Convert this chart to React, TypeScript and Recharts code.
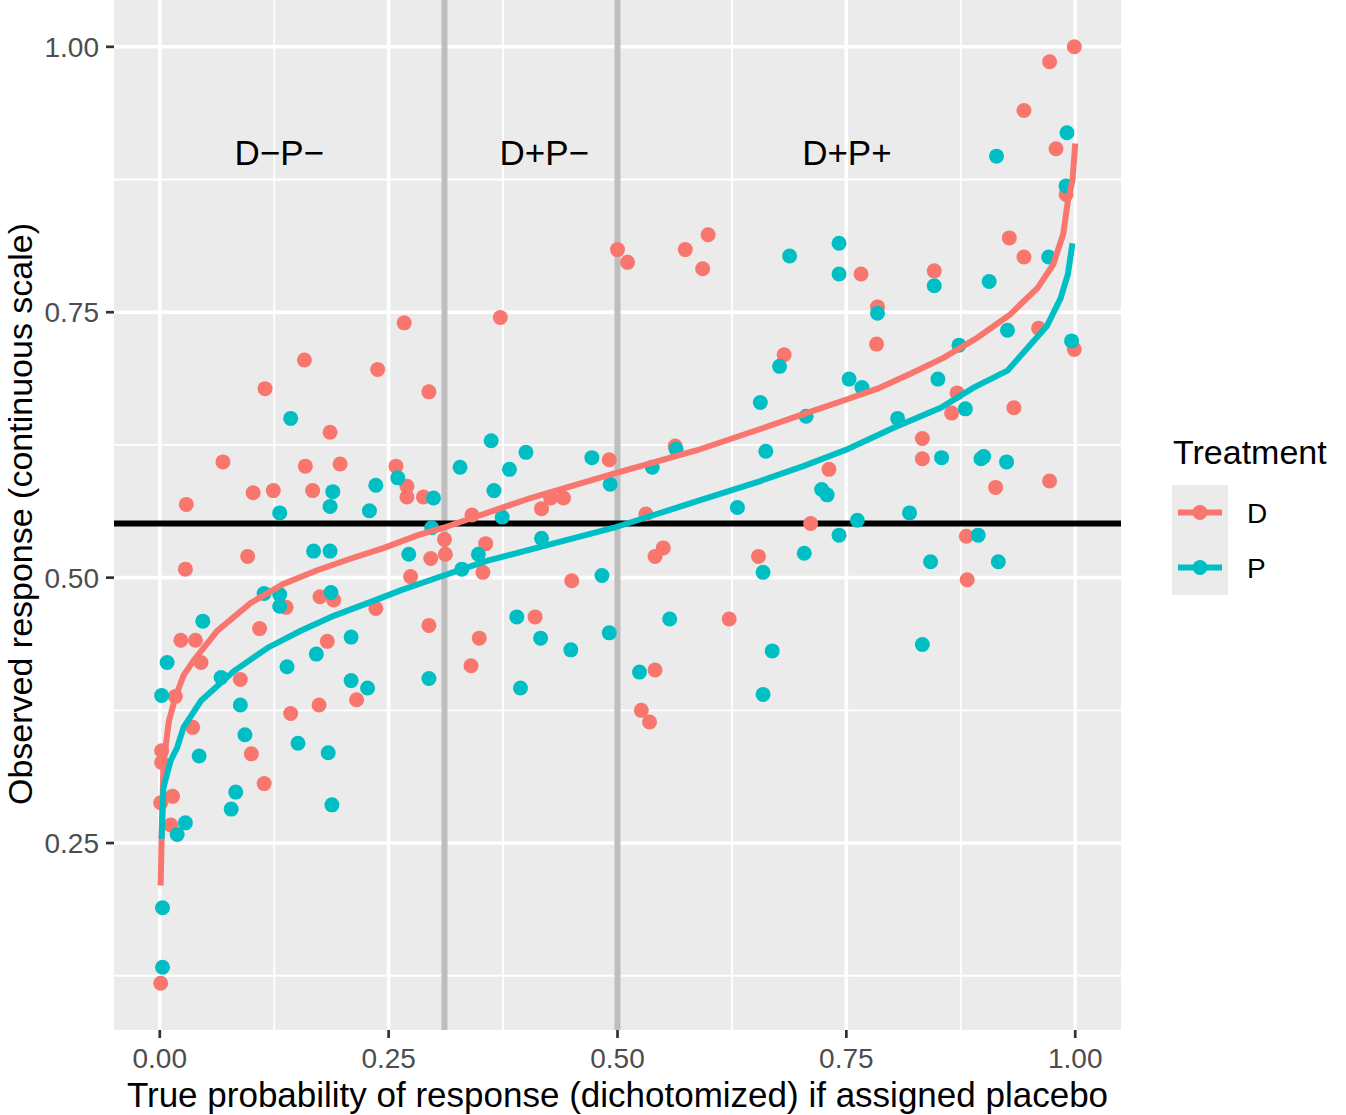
import React from 'react';
import { ScatterChart, Scatter, XAxis, YAxis, ReferenceLine, ReferenceDot, CartesianGrid } from 'recharts';

// Treatment D observations
const dX = [0.001,0.002,0.002,0.001,0.014,0.012,0.017,0.023,0.039,0.045,0.036,0.088,0.109,0.100,0.114,0.143,0.174,0.183,0.215,0.294,
  0.267,0.158,0.238,0.115,0.294,0.186,0.069,0.159,0.197,0.258,0.102,0.124,0.167,0.029,0.270,0.270,0.288,0.028,0.096,0.311,
  0.312,0.296,0.274,0.175,0.190,0.138,0.236,0.500,0.511,0.574,0.599,0.593,0.372,0.563,0.491,0.427,0.441,0.417,0.341,0.531,
  0.356,0.550,0.541,0.654,0.353,0.450,0.410,0.349,0.622,0.340,0.541,0.526,0.535,0.999,0.972,0.944,0.979,0.990,0.928,0.944,
  0.766,0.846,0.784,0.783,0.960,0.999,0.682,0.871,0.865,0.933,0.833,0.833,0.731,0.913,0.972,0.711,0.881,0.882];
const dY = [0.118,0.337,0.326,0.288,0.294,0.267,0.388,0.441,0.441,0.420,0.359,0.404,0.452,0.334,0.306,0.372,0.380,0.440,0.385,0.455,
  0.740,0.705,0.696,0.678,0.675,0.637,0.609,0.605,0.607,0.605,0.580,0.582,0.582,0.569,0.586,0.576,0.576,0.508,0.520,0.536,
  0.522,0.518,0.501,0.482,0.479,0.472,0.471,0.809,0.797,0.809,0.823,0.791,0.745,0.624,0.611,0.575,0.575,0.565,0.559,0.560,
  0.532,0.528,0.520,0.520,0.505,0.497,0.463,0.443,0.461,0.417,0.413,0.375,0.364,1.000,0.986,0.940,0.904,0.861,0.820,0.802,
  0.786,0.789,0.755,0.720,0.735,0.715,0.710,0.674,0.655,0.660,0.631,0.612,0.602,0.585,0.591,0.551,0.539,0.498];

// Treatment P observations
const pX = [0.143,0.260,0.236,0.189,0.186,0.131,0.229,0.299,0.297,0.168,0.186,0.272,0.114,0.131,0.131,0.187,0.047,0.209,0.008,0.002,
  0.067,0.088,0.093,0.043,0.139,0.171,0.209,0.227,0.151,0.184,0.083,0.078,0.188,0.028,0.019,0.294,0.003,0.003,0.656,0.662,
  0.564,0.362,0.400,0.328,0.382,0.472,0.538,0.365,0.492,0.374,0.631,0.417,0.348,0.330,0.483,0.659,0.390,0.416,0.449,0.491,
  0.557,0.669,0.524,0.394,0.659,0.991,0.914,0.990,0.742,0.971,0.688,0.742,0.846,0.906,0.784,0.926,0.873,0.996,0.677,0.753,
  0.850,0.767,0.880,0.706,0.806,0.854,0.897,0.900,0.925,0.723,0.729,0.819,0.762,0.742,0.894,0.704,0.842,0.916,0.833];
const pY = [0.650,0.594,0.587,0.581,0.567,0.561,0.563,0.575,0.547,0.525,0.525,0.522,0.485,0.484,0.473,0.486,0.459,0.444,0.420,0.389,
  0.406,0.380,0.352,0.332,0.416,0.428,0.403,0.396,0.344,0.335,0.298,0.282,0.286,0.269,0.258,0.405,0.189,0.133,0.665,0.619,
  0.621,0.629,0.618,0.604,0.602,0.613,0.604,0.582,0.588,0.557,0.566,0.537,0.522,0.508,0.502,0.505,0.463,0.443,0.432,0.448,
  0.461,0.431,0.411,0.396,0.390,0.919,0.897,0.869,0.815,0.802,0.803,0.786,0.775,0.779,0.749,0.733,0.719,0.723,0.699,0.687,
  0.687,0.679,0.659,0.652,0.650,0.613,0.612,0.614,0.609,0.583,0.578,0.561,0.554,0.540,0.540,0.523,0.515,0.515,0.437];

// Fitted curves
const dCurveX = [0.001,0.002,0.004,0.010,0.017,0.026,0.037,0.063,0.099,0.135,0.172,0.209,0.245,0.282,0.310,0.405,0.496,0.587,0.656,0.703,0.751,0.784,0.820,0.856,0.893,0.929,0.959,0.976,0.987,0.992,0.997,1.000];
const dCurveY = [0.210,0.255,0.325,0.365,0.387,0.408,0.422,0.450,0.476,0.494,0.507,0.518,0.528,0.540,0.547,0.575,0.598,0.620,0.640,0.654,0.668,0.678,0.692,0.707,0.726,0.748,0.773,0.795,0.824,0.855,0.874,0.909];
const pCurveX = [0.002,0.004,0.012,0.019,0.026,0.045,0.081,0.118,0.154,0.190,0.227,0.263,0.310,0.358,0.496,0.587,0.656,0.703,0.751,0.801,0.853,0.889,0.926,0.969,0.984,0.992,0.997];
const pCurveY = [0.254,0.302,0.328,0.340,0.359,0.384,0.412,0.434,0.450,0.464,0.476,0.488,0.502,0.516,0.547,0.572,0.591,0.605,0.621,0.641,0.660,0.679,0.695,0.737,0.763,0.786,0.815];

const xTicks = [0, 0.25, 0.5, 0.75, 1];
const yTicks = [0.25, 0.5, 0.75, 1];
const xMinor = [0.125, 0.375, 0.625, 0.875];
const yMinor = [0.125, 0.375, 0.625, 0.875];
const xDomain: [number, number] = [-0.05, 1.05];
const yDomain: [number, number] = [0.0739, 1.0441];

const cutPoints = [0.311, 0.5];
const threshold = 0.551;
const regionLabels = ['D−P−', 'D+P−', 'D+P+'];
const regionX = [0.1305, 0.42, 0.7506];
const regionY = 0.9;

const seriesNames = ['D', 'P'];
const colors = ['#F8766D', '#00BFC4'];

const FONT = 'Liberation Sans, Arial, Helvetica, sans-serif';

const zip = (xs: number[], ys: number[]) => xs.map((x, i) => ({ x, y: ys[i] }));
const dData = zip(dX, dY);
const pData = zip(pX, pY);
const dCurve = zip(dCurveX, dCurveY);
const pCurve = zip(pCurveX, pCurveY);

const makeDot = (color: string) => (props: any) => (
  <circle cx={props.cx} cy={props.cy} r={7.5} fill={color} />
);
const noDot = () => <g />;

export default function App() {
  return (
    <div style={{ position: 'absolute', left: 0, top: 0, width: 1346, height: 1115, background: '#fff' }}>
      <ScatterChart width={1346} height={1115} margin={{ top: 0, right: 225, bottom: 0, left: 0 }}>
        <CartesianGrid fill="#EBEBEB" horizontal={false} vertical={false} stroke="none" />
        <XAxis
          type="number"
          dataKey="x"
          domain={xDomain}
          ticks={xTicks}
          interval={0}
          allowDataOverflow
          tickFormatter={(v: number) => v.toFixed(2)}
          axisLine={false}
          tickLine={{ stroke: '#333333', strokeWidth: 2.7 }}
          tickSize={8}
          tickMargin={10}
          height={85}
          tick={{ fill: '#4D4D4D', fontSize: 28, fontFamily: FONT }}
        />
        <YAxis
          type="number"
          dataKey="y"
          domain={yDomain}
          ticks={yTicks}
          interval={0}
          allowDataOverflow
          tickFormatter={(v: number) => v.toFixed(2)}
          axisLine={false}
          tickLine={{ stroke: '#333333', strokeWidth: 2.7 }}
          tickSize={8}
          tickMargin={7}
          width={114}
          tick={{ fill: '#4D4D4D', fontSize: 28, fontFamily: FONT }}
        />
        {xMinor.map((v) => (
          <ReferenceLine key={'xm' + v} x={v} stroke="#FFFFFF" strokeWidth={1.8} />
        ))}
        {yMinor.map((v) => (
          <ReferenceLine key={'ym' + v} y={v} stroke="#FFFFFF" strokeWidth={1.8} />
        ))}
        {xTicks.map((v) => (
          <ReferenceLine key={'xM' + v} x={v} stroke="#FFFFFF" strokeWidth={3.6} />
        ))}
        {yTicks.map((v) => (
          <ReferenceLine key={'yM' + v} y={v} stroke="#FFFFFF" strokeWidth={3.6} />
        ))}
        <Scatter name="D" data={dData} fill={colors[0]} shape={makeDot(colors[0])} isAnimationActive={false} />
        <Scatter name="P" data={pData} fill={colors[1]} shape={makeDot(colors[1])} isAnimationActive={false} />
        <Scatter
          name="Dcurve"
          data={dCurve}
          line={{ stroke: colors[0], strokeWidth: 6 }}
          lineType="joint"
          shape={noDot}
          isAnimationActive={false}
        />
        <Scatter
          name="Pcurve"
          data={pCurve}
          line={{ stroke: colors[1], strokeWidth: 6 }}
          lineType="joint"
          shape={noDot}
          isAnimationActive={false}
        />
        {cutPoints.map((v) => (
          <ReferenceLine key={'cut' + v} x={v} stroke="#BEBEBE" strokeWidth={6} />
        ))}
        <ReferenceLine y={threshold} stroke="#000000" strokeWidth={6} />
        {regionLabels.map((lab, i) => (
          <ReferenceDot
            key={lab}
            x={regionX[i]}
            y={regionY}
            r={0}
            fill="none"
            stroke="none"
            label={{ value: lab, position: 'center', fontSize: 35, fill: '#000000', fontFamily: FONT }}
          />
        ))}
      </ScatterChart>
      <svg
        width={1346}
        height={1115}
        style={{ position: 'absolute', left: 0, top: 0, pointerEvents: 'none' }}
        fontFamily={FONT}
      >
        <text x={617.5} y={1107} textAnchor="middle" fontSize={35} fill="#000">
          True probability of response (dichotomized) if assigned placebo
        </text>
        <text transform="translate(31.5,514) rotate(-90)" textAnchor="middle" fontSize={34} fill="#000">
          Observed response (continuous scale)
        </text>
        <text x={1173} y={464} fontSize={34} fill="#000">Treatment</text>
        {seriesNames.map((n, i) => (
          <g key={n}>
            <rect x={1172} y={485 + i * 55} width={56} height={55} fill="#EBEBEB" />
            <line x1={1178} x2={1222} y1={512.5 + i * 55} y2={512.5 + i * 55} stroke={colors[i]} strokeWidth={6} />
            <circle cx={1200} cy={512.5 + i * 55} r={7.5} fill={colors[i]} />
            <text x={1247} y={523 + i * 55} fontSize={28} fill="#000">{n}</text>
          </g>
        ))}
      </svg>
    </div>
  );
}
